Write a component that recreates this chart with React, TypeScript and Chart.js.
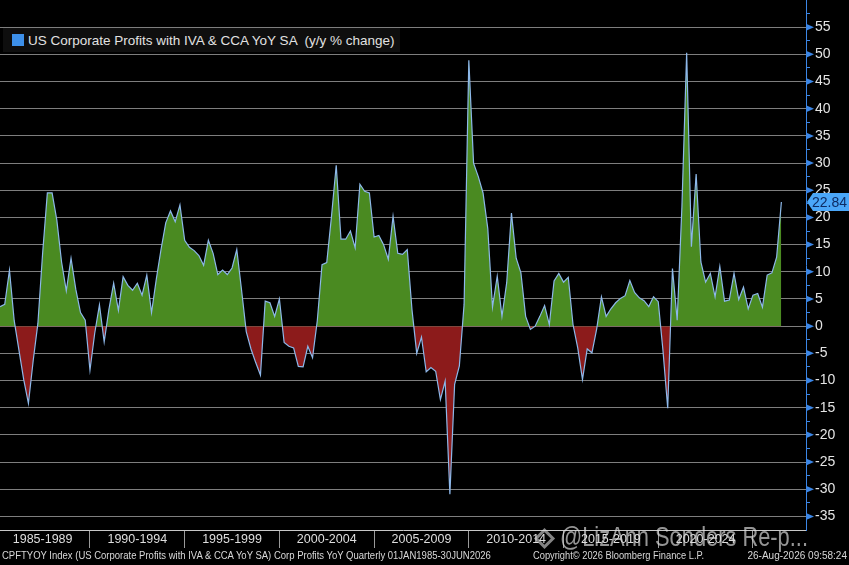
import React, { useEffect, useRef } from 'react';
import { Chart, registerables } from 'chart.js';

Chart.register(...registerables);

// ---- Data -------------------------------------------------------------
const startYear = 1985; // first quarter: 1985 Q1, last: 2026 Q2
const profitsYoY: number[] = [
  3.6, 4.0, 10.3, 1.0, -4.4, -9.8, -14.2, -6.4, 0.5, 13.4,
  24.5, 24.5, 19.5, 11.8, 6.5, 12.5, 6.8, 2.5, 1.1, -8.1,
  -1.3, 3.9, -2.9, 3.1, 7.9, 2.9, 9.1, 7.5, 6.6, 7.9,
  5.7, 9.4, 2.5, 8.6, 14.1, 19.0, 21.2, 19.2, 22.3, 15.8,
  14.5, 13.9, 13.0, 11.2, 15.8, 13.4, 9.5, 10.3, 9.5, 10.7,
  14.1, 6.7, -1.0, -4.2, -6.7, -9.0, 4.6, 4.3, 1.8, 5.0,
  -3.0, -3.7, -4.0, -7.4, -7.5, -3.7, -5.8, 1.0, 11.3, 11.7,
  20.2, 29.6, 16.0, 16.0, 17.5, 14.4, 26.1, 24.8, 24.5, 16.4,
  16.7, 15.0, 12.3, 20.2, 13.4, 13.2, 14.1, 3.0, -5.0, -2.0,
  -8.4, -7.6, -8.3, -13.5, -10.1, -30.9, -10.7, -7.3, 4.0, 48.9,
  30.0, 27.5, 24.5, 18.0, 3.5, 9.2, 1.8, 8.0, 20.8, 12.5,
  9.8, 1.8, -0.6, 0.0, 1.8, 3.8, 0.3, 8.3, 9.7, 8.1,
  9.0, 0.3, -4.0, -9.8, -4.2, -4.9, -0.5, 5.4, 1.8, 3.2,
  4.3, 5.1, 5.6, 8.4, 6.2, 5.2, 4.7, 3.6, 5.4, 4.5,
  -4.5, -15.1, 10.6, 1.1, 22.0, 50.3, 14.6, 28.0, 11.8, 8.1,
  9.7, 5.4, 11.0, 4.6, 4.8, 9.7, 4.9, 7.2, 3.2, 5.7,
  6.0, 3.5, 9.4, 9.8, 12.7, 22.84,
];
const quarterLabels: string[] = profitsYoY.map(
  (_, i) => `${startYear + Math.floor(i / 4)}Q${(i % 4) + 1}`
);
const periodLabels: string[] = [
  '1985-1989', '1990-1994', '1995-1999', '2000-2004',
  '2005-2009', '2010-2014', '2015-2019', '2020-2024',
];
const periodStartYears: number[] = [1985, 1990, 1995, 2000, 2005, 2010, 2015, 2020];
const separatorYears: number[] = [1990, 1995, 2000, 2005, 2010, 2015, 2020, 2025];
const yMajorTicks: number[] = [-35, -30, -25, -20, -15, -10, -5, 0, 5, 10, 15, 20, 25, 30, 35, 40, 45, 50, 55];

const seriesName = 'US Corporate Profits with IVA & CCA YoY SA  (y/y % change)';
const footerLeft =
  'CPFTYOY Index (US Corporate Profits with IVA & CCA YoY SA) Corp Profits YoY Quarterly 01JAN1985-30JUN2026';
const footerMid = 'Copyright\u00A9 2026 Bloomberg Finance L.P.';
const footerRight = '26-Aug-2026 09:58:24';
const watermark = '@LizAnn Sonders Re-p...';

// ---- helpers ----------------------------------------------------------
// point i sits at the end of its quarter; a year boundary Y sits at (Y-1985)*4 - 1
const boundaryOf = (year: number) => (year - startYear) * 4 - 1;
const separatorValues = separatorYears.map(boundaryOf);
const labelCenters = periodStartYears.map((y) => boundaryOf(y) + 10);

const AXIS_BLUE = '#3b86e6';
const GRID = '#7e7e7e';
const SANS = "'Liberation Sans', Arial, sans-serif";

const axisDecor = {
  id: 'axisDecor',
  afterDraw(chart: any) {
    const ys = chart.scales.y;
    const ctx = chart.ctx as CanvasRenderingContext2D;
    const ax = ys.left;
    ctx.save();
    ctx.fillStyle = AXIS_BLUE;
    for (const v of yMajorTicks) {
      const py = ys.getPixelForValue(v);
      ctx.beginPath();
      ctx.moveTo(ax, py - 3.5);
      ctx.lineTo(ax + 8, py);
      ctx.lineTo(ax, py + 3.5);
      ctx.closePath();
      ctx.fill();
    }
    const last = profitsYoY[profitsYoY.length - 1];
    const py = Math.round(ys.getPixelForValue(last));
    const x0 = ax + 1;
    const h = 18;
    ctx.fillStyle = '#4aa6f8';
    ctx.beginPath();
    ctx.moveTo(x0, py);
    ctx.lineTo(x0 + 6, py - h / 2);
    ctx.lineTo(chart.width, py - h / 2);
    ctx.lineTo(chart.width, py + h / 2);
    ctx.lineTo(x0 + 6, py + h / 2);
    ctx.closePath();
    ctx.fill();
    ctx.fillStyle = '#0d2b63';
    ctx.font = `14px ${SANS}`;
    ctx.textBaseline = 'middle';
    ctx.textAlign = 'left';
    ctx.fillText(last.toFixed(2), x0 + 5, py + 1);
    ctx.restore();
  },
};

export default function App() {
  const canvasRef = useRef<HTMLCanvasElement | null>(null);

  useEffect(() => {
    if (!canvasRef.current) return;
    const chart = new Chart(canvasRef.current, {
      type: 'line',
      data: {
        labels: quarterLabels,
        datasets: [
          {
            label: seriesName,
            data: profitsYoY.map((v, i) => ({ x: i, y: v })),
            borderColor: '#8db8ea',
            borderWidth: 1.2,
            pointRadius: 0,
            tension: 0,
            fill: { target: { value: 0 }, above: '#4a8a21', below: '#8c1b1b' },
          },
        ],
      },
      options: {
        animation: false,
        responsive: false,
        layout: { padding: 0 },
        plugins: { legend: { display: false }, tooltip: { enabled: false } },
        scales: {
          x: {
            type: 'linear',
            min: 0,
            max: 170.2,
            afterBuildTicks: (scale: any) => {
              const vals = [...separatorValues, ...labelCenters].sort((a, b) => a - b);
              scale.ticks = vals.map((v) => ({ value: v }));
            },
            afterFit: (scale: any) => {
              scale.height = 18;
              scale.paddingLeft = 0;
              scale.paddingRight = 0;
            },
            ticks: {
              autoSkip: false,
              maxRotation: 0,
              padding: -16,
              color: '#dedede',
              font: { family: SANS, size: 12.5 },
              callback: (value: any) => {
                const k = labelCenters.indexOf(Number(value));
                return k >= 0 ? periodLabels[k] : '';
              },
            },
            grid: {
              drawOnChartArea: false,
              drawTicks: true,
              tickLength: 18,
              color: (c: any) =>
                c.tick && separatorValues.includes(c.tick.value) ? '#9a9a9a' : 'rgba(0,0,0,0)',
            },
            border: { display: true, color: '#c8c8c8', width: 1 },
          },
          y: {
            position: 'right',
            min: -37.5,
            max: 60,
            afterBuildTicks: (scale: any) => {
              const t: { value: number }[] = [];
              for (let v = -35; v <= 57.5; v += 2.5) t.push({ value: v });
              scale.ticks = t;
            },
            afterFit: (scale: any) => {
              scale.width = 43;
              scale.paddingTop = 0;
              scale.paddingBottom = 0;
            },
            ticks: {
              autoSkip: false,
              padding: 5,
              color: '#e4e4e4',
              font: { family: SANS, size: 14 },
              callback: (value: any) => (yMajorTicks.includes(Number(value)) ? String(value) : ''),
            },
            grid: {
              drawTicks: true,
              tickLength: 4,
              tickColor: AXIS_BLUE,
              color: (c: any) =>
                c.tick && yMajorTicks.includes(c.tick.value) ? GRID : 'rgba(0,0,0,0)',
              lineWidth: 1,
            },
            border: { display: true, color: AXIS_BLUE, width: 1 },
          },
        },
      },
      plugins: [axisDecor],
    } as any);
    return () => chart.destroy();
  }, []);

  return (
    <div
      style={{
        position: 'fixed',
        left: 0,
        top: 0,
        width: 849,
        height: 565,
        background: '#000',
        overflow: 'hidden',
      }}
    >
      <canvas ref={canvasRef} width={849} height={548} style={{ display: 'block' }} />
      <div
        style={{
          position: 'absolute',
          left: 3,
          top: 28,
          width: 397,
          height: 24,
          background: '#0e0e0e',
          display: 'flex',
          alignItems: 'center',
          fontFamily: SANS,
          fontSize: 13.5,
          color: '#e2e2e2',
          whiteSpace: 'pre',
        }}
      >
        <span
          style={{ display: 'inline-block', width: 12, height: 12, background: '#3d90ea', marginLeft: 9, marginRight: 4 }}
        />
        <span>{seriesName}</span>
      </div>
      <div
        style={{
          position: 'absolute',
          left: 537,
          top: 531,
          width: 15,
          height: 15,
          border: '3px solid rgba(220,220,220,0.6)',
          transform: 'rotate(45deg)',
          boxSizing: 'border-box',
        }}
      />
      <div
        style={{
          position: 'absolute',
          left: 560,
          top: 521,
          fontFamily: SANS,
          fontSize: 28,
          color: 'rgba(220,220,220,0.68)',
          whiteSpace: 'pre',
          transform: 'scaleX(0.78)',
          transformOrigin: 'left top',
        }}
      >
        {watermark}
      </div>
      <div
        style={{
          position: 'absolute',
          left: 0,
          top: 547,
          width: 849,
          height: 18,
          fontFamily: SANS,
          fontSize: 10,
          lineHeight: '18px',
          color: '#d8d8d8',
          whiteSpace: 'pre',
        }}
      >
        <span style={{ position: 'absolute', left: 2, transform: 'scaleX(0.95)', transformOrigin: 'left center' }}>
          {footerLeft}
        </span>
        <span style={{ position: 'absolute', left: 533, transform: 'scaleX(0.93)', transformOrigin: 'left center' }}>
          {footerMid}
        </span>
        <span style={{ position: 'absolute', right: 2 }}>{footerRight}</span>
      </div>
    </div>
  );
}
